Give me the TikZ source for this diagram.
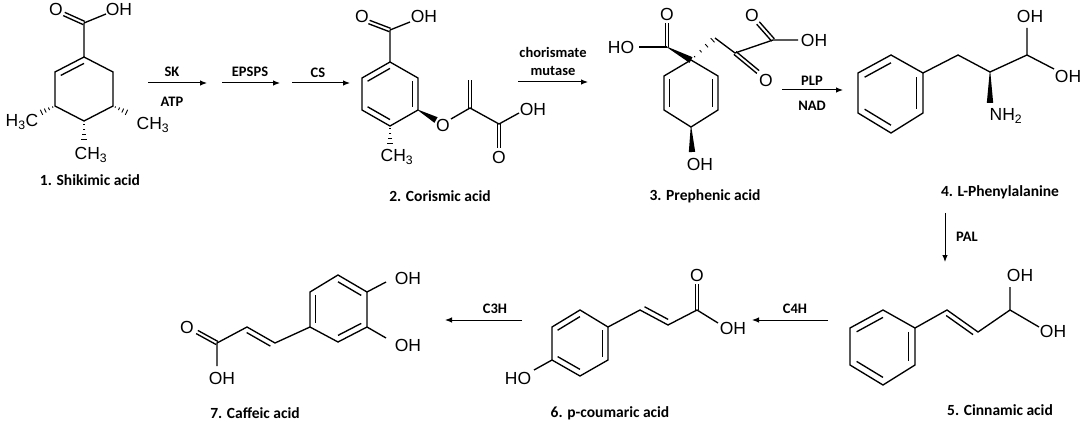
\documentclass[tikz,border=0pt]{standalone}
\usepackage{fontspec}
\setmainfont{Liberation Sans}
\newfontfamily\capf{Carlito}
\usetikzlibrary{calc,arrows.meta}
\newcommand\Inr[3]{\draw ($(#1)!0.2!(#3)$) -- ($(#2)!0.2!(#3)$);}
\newcommand\Dbs[3]{\draw[shorten <=2.5pt,shorten >=2.5pt] ($(#1)!#3!90:(#2)$) -- ($(#2)!#3!-90:(#1)$);}
\newcommand\Wdg[2]{\fill ($(#1)!0.3pt!90:(#2)$) -- ($(#1)!0.3pt!-90:(#2)$) -- ($(#2)!3.2pt!90:(#1)$) -- ($(#2)!3.2pt!-90:(#1)$) -- cycle;}
\newcommand\Hsh[2]{\foreach \t/\w in {0.15/0.7pt,0.4/1.4pt,0.65/2.1pt,0.9/2.8pt}{\coordinate (hh) at ($(#1)!\t!(#2)$); \draw[line width=0.9pt] ($(hh)!\w!90:(#2)$) -- ($(hh)!\w!-90:(#2)$);}}
\begin{document}
\begin{tikzpicture}[x=1pt,y=-1pt,line width=1.35pt,
  atom/.style={font=\fontsize{17.5}{17.5}\selectfont,inner sep=0pt},
  capt/.style={font=\capf\bfseries\fontsize{15.5}{15.5}\selectfont,inner sep=0pt},
  enz/.style={font=\capf\bfseries\fontsize{14.5}{14.5}\selectfont,inner sep=0pt},
  rx/.style={-{Latex[length=7pt,width=5.5pt]},line width=1pt}]
\useasboundingbox (0,0) rectangle (1084,422);
% ---------- 1 Shikimic acid
\coordinate (a1) at (84,57); \coordinate (a2) at (55,72); \coordinate (a3) at (55,106);
\coordinate (a4) at (84,121); \coordinate (a5) at (113,106); \coordinate (a6) at (113,72);
\coordinate (acen) at (84,89); \coordinate (ac) at (84,23);
\draw (a1)--(a2)--(a3)--(a4)--(a5)--(a6)--cycle;
\Inr{a1}{a2}{acen}
\draw (a1)--(ac) (ac)--(106,14);
\draw ($(ac)!1.8pt!90:(64,14)$) -- ($(64,14)!1.8pt!-90:(ac)$);
\draw ($(ac)!1.8pt!-90:(64,14)$) -- ($(64,14)!1.8pt!90:(ac)$);
\node[atom] (aO) at (56,9) {O}; \node[atom] (aOH) at (119,9) {OH};
\Hsh{a3}{40,113} \node[atom] (aMe1) at (22,122) {H\textsubscript{3}C};
\Hsh{a5}{128,113} \node[atom] (aMe2) at (153,125) {CH\textsubscript{3}};
\Hsh{a4}{84,142} \node[atom] (aMe3) at (91,155) {CH\textsubscript{3}};
\node[capt] (n1) at (90,180) {1. Shikimic acid};
% ---------- arrows top
\draw[rx] (148,83) -- (207,83); \node[enz] at (172,72) {SK}; \node[enz] at (172,102) {ATP};
\draw[rx] (222,83) -- (280,83); \node[enz] at (250,72) {EPSPS};
\draw[rx] (292,83) -- (350,83); \node[enz] at (318,73) {CS};
\draw[rx] (518,82) -- (588,82); \node[enz] at (553,52) {chorismate}; \node[enz] at (553,71) {mutase};
\draw[rx] (782,90) -- (843,90); \node[enz] at (812,81) {PLP}; \node[enz] at (812,106) {NAD};
\draw[rx] (945,213) -- (945,262); \node[enz] at (967,237) {PAL};
\draw[rx] (828,320) -- (752,320); \node[enz] at (795,309) {C4H};
\draw[rx] (522,320) -- (445,320); \node[enz] at (495,309) {C3H};
% ---------- 2 Corismic acid
\coordinate (b1) at (390,62); \coordinate (b2) at (418,78); \coordinate (b3) at (418,110);
\coordinate (b4) at (390,126); \coordinate (b5) at (362,110); \coordinate (b6) at (362,78);
\coordinate (bcen) at (390,94); \coordinate (bc) at (390,30);
\draw (b1)--(b2)--(b3)--(b4)--(b5)--(b6)--cycle;
\Inr{b6}{b1}{bcen} \Inr{b2}{b3}{bcen} \Inr{b5}{b4}{bcen}
\draw (b1)--(bc) (bc)--(410,22);
\draw ($(bc)!1.8pt!90:(369,22)$) -- ($(369,22)!1.8pt!-90:(bc)$);
\draw ($(bc)!1.8pt!-90:(369,22)$) -- ($(369,22)!1.8pt!90:(bc)$);
\node[atom] at (362,16) {O}; \node[atom] at (424,16) {OH};
\Wdg{b3}{436,120}
\node[atom] at (443,125) {O};
\coordinate (bv) at (470,108); \coordinate (bk) at (499,124);
\draw (451,119)--(bv)--(bk)--(519,113);
\draw ($(bv)!1.8pt!90:(470,80)$) -- ($(470,80)!1.8pt!-90:(bv)$);
\draw ($(bv)!1.8pt!-90:(470,80)$) -- ($(470,80)!1.8pt!90:(bv)$);
\draw ($(bk)!1.8pt!90:(499,148)$) -- ($(499,148)!1.8pt!-90:(bk)$);
\draw ($(bk)!1.8pt!-90:(499,148)$) -- ($(499,148)!1.8pt!90:(bk)$);
\node[atom] at (499,157) {O}; \node[atom] at (533,109) {OH};
\Hsh{b4}{390,145} \node[atom] at (397,157) {CH\textsubscript{3}};
\node[capt] at (440,196) {2. Corismic acid};
% ---------- 3 Prephenic acid
\coordinate (c1) at (691,60); \coordinate (c2) at (718,76); \coordinate (c3) at (718,110);
\coordinate (c4) at (691,127); \coordinate (c5) at (664,110); \coordinate (c6) at (664,76);
\coordinate (ccen) at (691,93);
\draw (c1)--(c2)--(c3)--(c4)--(c5)--(c6)--cycle;
\Inr{c6}{c5}{ccen} \Inr{c2}{c3}{ccen}
\Wdg{c4}{692,152} \node[atom] at (700,164) {OH};
\coordinate (cc) at (667,47);
\Wdg{cc}{c1}
\draw (cc)--(639,47); \node[atom] at (621,47) {HO};
\draw ($(cc)!1.8pt!90:(667,23)$) -- ($(667,23)!1.8pt!-90:(cc)$);
\draw ($(cc)!1.8pt!-90:(667,23)$) -- ($(667,23)!1.8pt!90:(cc)$);
\node[atom] at (667,14) {O};
\coordinate (cm) at (715,38); \coordinate (ck) at (735,53); \coordinate (ca) at (773,40);
\Hsh{c1}{cm}
\draw (cm)--(ck)--(ca)--(798,40);
\draw ($(ck)!1.8pt!90:(758,72)$) -- ($(758,72)!1.8pt!-90:(ck)$);
\draw ($(ck)!1.8pt!-90:(758,72)$) -- ($(758,72)!1.8pt!90:(ck)$);
\node[atom] at (766,80) {O};
\draw ($(ca)!1.8pt!90:(758,23)$) -- ($(758,23)!1.8pt!-90:(ca)$);
\draw ($(ca)!1.8pt!-90:(758,23)$) -- ($(758,23)!1.8pt!90:(ca)$);
\node[atom] at (752,15) {O}; \node[atom] at (814,40) {OH};
\node[capt] at (705,196) {3. Prephenic acid};
% ---------- 4 L-Phenylalanine
\coordinate (d1) at (891,55); \coordinate (d2) at (923,73); \coordinate (d3) at (923,113);
\coordinate (d4) at (891,133); \coordinate (d5) at (858,113); \coordinate (d6) at (858,73);
\coordinate (dcen) at (891,94);
\draw (d1)--(d2)--(d3)--(d4)--(d5)--(d6)--cycle;
\Inr{d6}{d1}{dcen} \Inr{d2}{d3}{dcen} \Inr{d5}{d4}{dcen}
\coordinate (da) at (990,72); \coordinate (db) at (1027,55);
\draw (d2)--(958,55)--(da)--(db)--(1027,28) (db)--(1054,69);
\Wdg{da}{990,103} \node[atom] at (1006,116) {NH\textsubscript{2}};
\node[atom] at (1030,16) {OH}; \node[atom] at (1068,76) {OH};
\node[capt] at (1000,192) {4. L-Phenylalanine};
% ---------- 5 Cinnamic acid
\coordinate (e1) at (883,310); \coordinate (e2) at (915,328); \coordinate (e3) at (915,365);
\coordinate (e4) at (883,385); \coordinate (e5) at (850,365); \coordinate (e6) at (850,328);
\coordinate (ecen) at (883,347);
\draw (e1)--(e2)--(e3)--(e4)--(e5)--(e6)--cycle;
\Inr{e6}{e1}{ecen} \Inr{e2}{e3}{ecen} \Inr{e5}{e4}{ecen}
\coordinate (ea) at (947,310); \coordinate (eb) at (978,332); \coordinate (ec) at (1010,310);
\draw (e2)--(ea)--(eb)--(ec)--(1010,287) (ec)--(1039,327);
\Dbs{ea}{eb}{-5pt}
\node[atom] at (1020,275) {OH}; \node[atom] at (1053,331) {OH};
\node[capt] at (1000,410) {5. Cinnamic acid};
% ---------- 6 p-coumaric acid
\coordinate (f1) at (580,310); \coordinate (f2) at (608,327); \coordinate (f3) at (608,360);
\coordinate (f4) at (580,376); \coordinate (f5) at (552,360); \coordinate (f6) at (552,327);
\coordinate (fcen) at (580,343);
\draw (f1)--(f2)--(f3)--(f4)--(f5)--(f6)--cycle;
\Inr{f6}{f1}{fcen} \Inr{f2}{f3}{fcen} \Inr{f5}{f4}{fcen}
\draw (f5)--(534,370); \node[atom] at (518,378) {HO};
\coordinate (fa) at (640,310); \coordinate (fb) at (668,325); \coordinate (fc) at (697,310);
\draw (f2)--(fa)--(fb)--(fc)--(718,323);
\Dbs{fa}{fb}{5pt}
\draw ($(fc)!1.8pt!90:(697,284)$) -- ($(697,284)!1.8pt!-90:(fc)$);
\draw ($(fc)!1.8pt!-90:(697,284)$) -- ($(697,284)!1.8pt!90:(fc)$);
\node[atom] at (697,275) {O}; \node[atom] at (733,328) {OH};
\node[capt] at (610,413) {6. p-coumaric acid};
% ---------- 7 Caffeic acid
\coordinate (g1) at (338,275); \coordinate (g2) at (367,292); \coordinate (g3) at (367,327);
\coordinate (g4) at (338,342); \coordinate (g5) at (310,327); \coordinate (g6) at (310,292);
\coordinate (gcen) at (338,309);
\draw (g1)--(g2)--(g3)--(g4)--(g5)--(g6)--cycle;
\Inr{g6}{g5}{gcen} \Inr{g1}{g2}{gcen} \Inr{g3}{g4}{gcen}
\draw (g2)--(386,282) (g3)--(386,338);
\node[atom] at (408,278) {OH}; \node[atom] at (408,345) {OH};
\coordinate (ga) at (275,343); \coordinate (gb) at (247,327); \coordinate (gc) at (217,343);
\draw (g5)--(ga)--(gb)--(gc)--(217,366);
\Dbs{ga}{gb}{5pt}
\draw ($(gc)!1.8pt!90:(197,332)$) -- ($(197,332)!1.8pt!-90:(gc)$);
\draw ($(gc)!1.8pt!-90:(197,332)$) -- ($(197,332)!1.8pt!90:(gc)$);
\node[atom] at (187,327) {O}; \node[atom] at (222,378) {OH};
\node[capt] at (255,413) {7. Caffeic acid};
\end{tikzpicture}
\end{document}
